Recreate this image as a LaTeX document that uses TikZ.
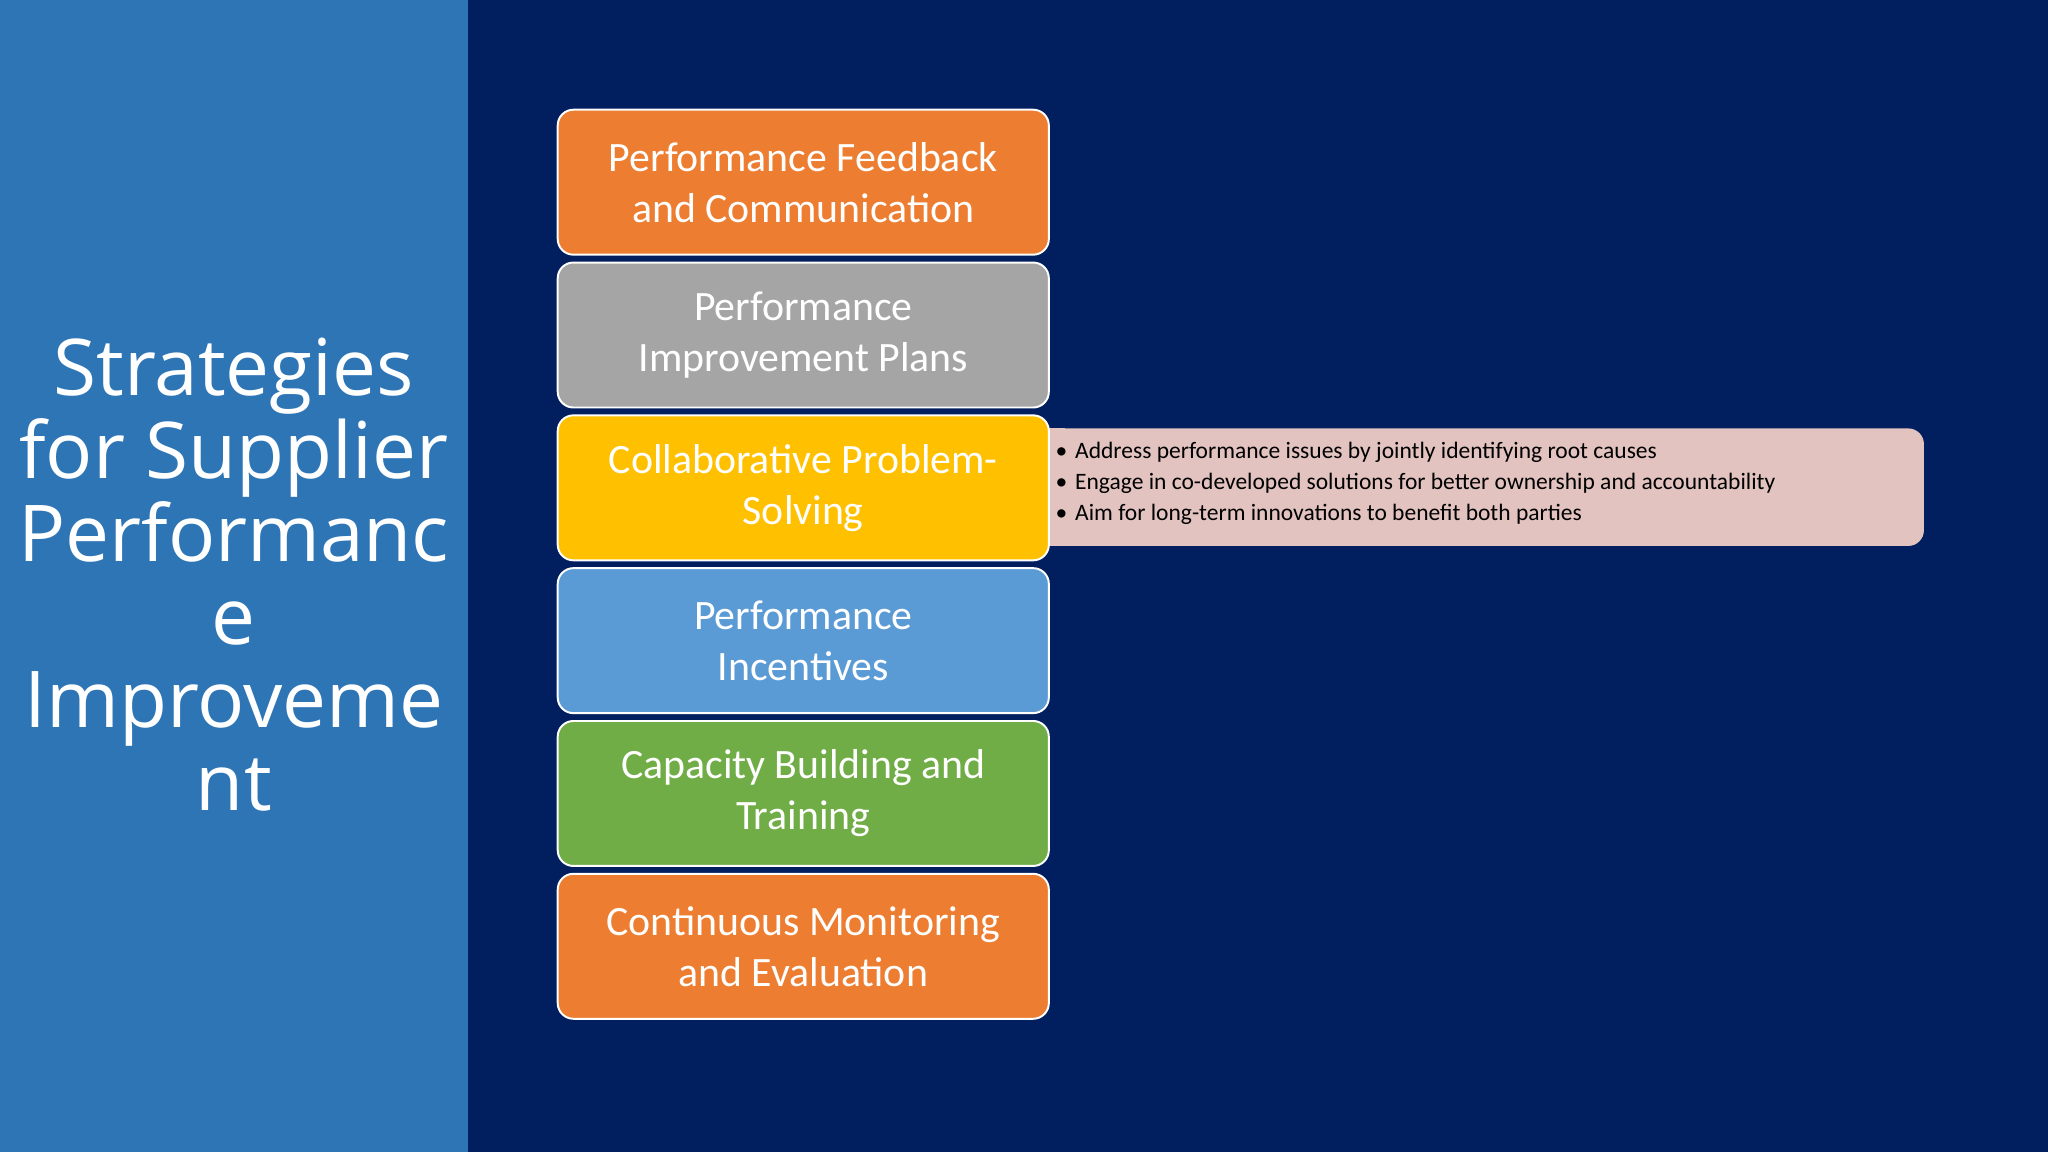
\documentclass[tikz,border=0pt]{standalone}
\usepackage{fontspec}
\setmainfont{Carlito}
\newfontfamily\titlefont{Open Sans}
\begin{document}
\begin{tikzpicture}[x=1pt,y=-1pt,
  stepbox/.style={draw=white,line width=1.5pt,rounded corners=12pt,minimum width=376pt,minimum height=111pt,text=white,align=center,font=\fontsize{32}{39}\selectfont},
]
\definecolor{bg}{RGB}{1,30,94}
\definecolor{side}{RGB}{46,117,182}
\definecolor{c1}{RGB}{237,125,49}
\definecolor{c2}{RGB}{165,165,165}
\definecolor{c3}{RGB}{255,192,0}
\definecolor{c4}{RGB}{91,155,213}
\definecolor{c5}{RGB}{112,173,71}
\definecolor{call}{RGB}{226,195,192}
\useasboundingbox (0,0) rectangle (1568,882);
\fill[bg] (0,0) rectangle (1568,882);
\fill[side] (0,0) rectangle (358,882);
\node[text=white,align=center,font=\titlefont\fontsize{60}{63.5}\selectfont] (title) at (179,440)
 {Strategies\\for Supplier\\Performanc\\e\\Improveme\\nt};
\fill[call,rounded corners=12pt] (790,328) rectangle (1473,418);
\fill[call] (790,328) rectangle (815,418);
\node[anchor=north west,align=left,font=\fontsize{18}{24}\selectfont,text=black,inner sep=0pt] (bul) at (808,338)
 {\textbullet\hspace{6pt}Address performance issues by jointly identifying root causes\\
  \textbullet\hspace{6pt}Engage in co-developed solutions for better ownership and accountability\\
  \textbullet\hspace{6pt}Aim for long-term innovations to benefit both parties};
\node[stepbox,fill=c1] (b1) at (615,139.5) {Performance Feedback\\and Communication};
\node[stepbox,fill=c2] (b2) at (615,256.5) {Performance\\Improvement Plans};
\node[stepbox,fill=c3] (b3) at (615,373.5) {Collaborative Problem-\\Solving};
\node[stepbox,fill=c4] (b4) at (615,490.5) {Performance\\Incentives};
\node[stepbox,fill=c5] (b5) at (615,607.5) {Capacity Building and\\Training};
\node[stepbox,fill=c1] (b6) at (615,724.5) {Continuous Monitoring\\and Evaluation};
\end{tikzpicture}
\end{document}
